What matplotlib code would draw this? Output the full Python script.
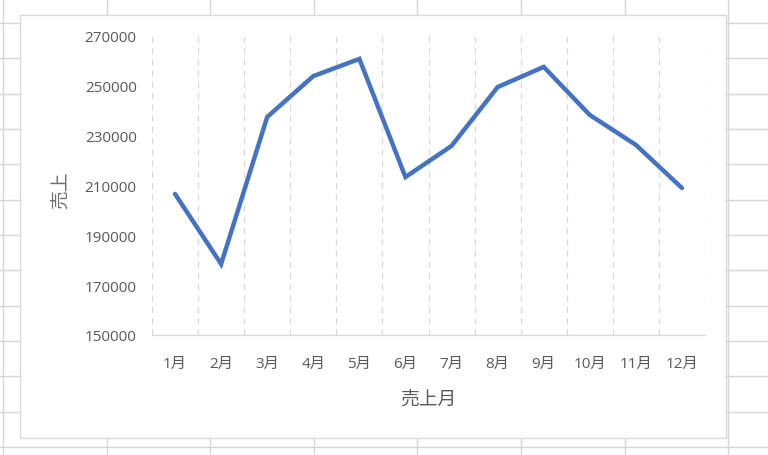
import numpy as np
import matplotlib
matplotlib.use("Agg")
import matplotlib.pyplot as plt
from matplotlib.patches import Rectangle

plt.rcParams['font.family'] = ['Open Sans', 'Noto Sans CJK JP', 'DejaVu Sans']

# ==========================================
# Data
# ==========================================

months = ["1月", "2月", "3月", "4月", "5月", "6月",
          "7月", "8月", "9月", "10月", "11月", "12月"]
sales = [206600, 178500, 237500, 253900, 260800, 213400,
         225900, 249500, 257600, 238300, 226300, 209000]
y_ticks = [150000, 170000, 190000, 210000, 230000, 250000, 270000]

text_color = "#595959"
grid_color = "#d9d9d9"
line_color = "#4472C4"

# ==========================================
# Figure with spreadsheet cells behind
# ==========================================

W, H = 768, 456
fig = plt.figure(figsize=(W / 100, H / 100), dpi=100)

bg = fig.add_axes([0, 0, 1, 1])
bg.set_xlim(0, W)
bg.set_ylim(H, 0)
bg.axis("off")
for r in range(13):
    bg.axhline(24 + r * 35.33, color="#d6d6d6", lw=1.0, zorder=1)
for c in range(8):
    bg.axvline(3 + c * 103.6, color="#d6d6d6", lw=1.0, zorder=1)

# chart area
bg.add_patch(Rectangle((20, 16), 706, 423, facecolor="white",
                       edgecolor="#d9d9d9", lw=1.0, zorder=5))

# ==========================================
# Line chart
# ==========================================

ax = fig.add_axes([152 / W, 1 - 336 / H, 553 / W, 299 / H])
ax.set_facecolor("none")

x = np.arange(len(months))
ax.plot(x, sales, color=line_color, lw=3.2, solid_joinstyle="miter",
        solid_capstyle="round", zorder=3)

ax.set_xlim(-0.5, len(months) - 0.5)
ax.set_ylim(y_ticks[0], y_ticks[-1])
ax.set_yticks(y_ticks)
ax.set_yticklabels([str(v) for v in y_ticks])
ax.set_xticks(x)
ax.set_xticklabels(months)

# dashed vertical gridlines between categories
for b in np.arange(-0.5, len(months), 1.0):
    ax.axvline(b, color=grid_color, lw=0.9, ls=(0, (5, 4)), zorder=1)

for side in ["top", "right", "left"]:
    ax.spines[side].set_visible(False)
ax.spines["bottom"].set_color(grid_color)
ax.spines["bottom"].set_linewidth(1.0)

ax.tick_params(axis="both", length=0, colors=text_color, labelsize=11)
ax.tick_params(axis="y", pad=11)
ax.tick_params(axis="x", pad=15)

ax.set_xlabel("売上月", color=text_color, fontsize=13.5, va="center")
ax.xaxis.set_label_coords(0.5, -0.214)
ax.set_ylabel("売上", color="#6e6e6e", fontsize=13.5, rotation=90,
              va="center", ha="center")
ax.yaxis.set_label_coords(-0.165, 0.488)

plt.savefig("out.png", dpi=100)
plt.close()
